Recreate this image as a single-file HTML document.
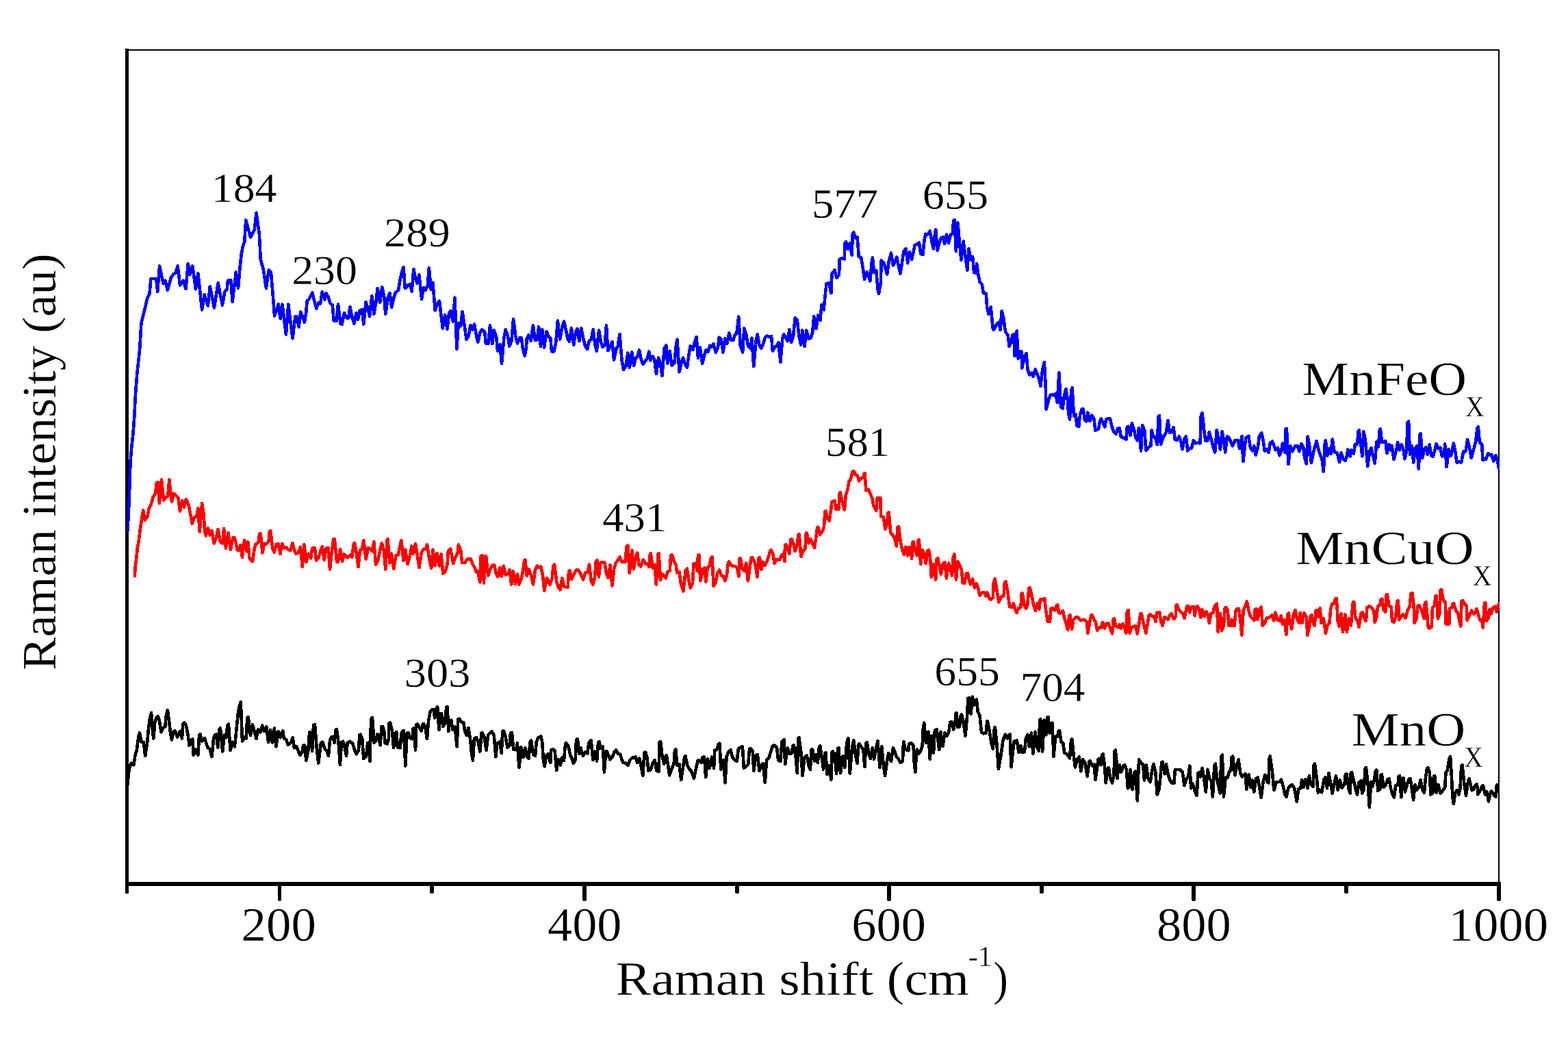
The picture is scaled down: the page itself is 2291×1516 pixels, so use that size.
<!DOCTYPE html>
<html lang="en">
<head>
<meta charset="utf-8">
<title>Raman spectra</title>
<style>
html,body{margin:0;padding:0;background:#fff;}
body{width:2291px;height:1516px;overflow:hidden;}
svg{display:block;}
text{font-family:"Liberation Serif","DejaVu Serif",serif;fill:#000;stroke:#fff;stroke-width:0.3px;}
</style>
</head>
<body>
<svg width="2291" height="1516" viewBox="0 0 2291 1516">
<rect x="0" y="0" width="2291" height="1516" fill="#ffffff"/>
<g id="frame" shape-rendering="crispEdges">
<rect x="183" y="71.5" width="2008" height="2" fill="#000"/>
<rect x="2189" y="71.5" width="2" height="1220" fill="#000"/>
<rect x="183" y="70.5" width="5" height="1234" fill="#000"/>
<rect x="183" y="1288" width="2010" height="6" fill="#000"/>
<rect x="183" y="1290" width="5" height="14" fill="#000"/>
<rect x="184" y="1304" width="3" height="1" fill="#000"/>
<rect x="406" y="1290" width="5" height="25" fill="#000"/>
<rect x="407" y="1315" width="3" height="1" fill="#000"/>
<rect x="628" y="1290" width="6" height="14" fill="#000"/>
<rect x="629" y="1304" width="4" height="1" fill="#000"/>
<rect x="851" y="1290" width="6" height="25" fill="#000"/>
<rect x="852" y="1315" width="4" height="1" fill="#000"/>
<rect x="1074" y="1290" width="6" height="14" fill="#000"/>
<rect x="1075" y="1304" width="4" height="1" fill="#000"/>
<rect x="1296" y="1290" width="6" height="25" fill="#000"/>
<rect x="1297" y="1315" width="4" height="1" fill="#000"/>
<rect x="1519" y="1290" width="6" height="14" fill="#000"/>
<rect x="1520" y="1304" width="4" height="1" fill="#000"/>
<rect x="1741" y="1290" width="6" height="25" fill="#000"/>
<rect x="1742" y="1315" width="4" height="1" fill="#000"/>
<rect x="1964" y="1290" width="6" height="14" fill="#000"/>
<rect x="1965" y="1304" width="4" height="1" fill="#000"/>
<rect x="2187" y="1290" width="6" height="25" fill="#000"/>
<rect x="2188" y="1315" width="4" height="1" fill="#000"/>
</g>
<defs><clipPath id="plotclip"><rect x="186" y="73" width="2005" height="1216"/></clipPath></defs>
<g id="curves" clip-path="url(#plotclip)">
<polyline points="186.4,1146.7 187.7,1130.9 189.4,1120.5 191.6,1114.6 195.5,1117.2 197.5,1103.4 200.1,1094.3 202.1,1077.3 204.0,1070.3 206.7,1083.8 209.9,1083.8 212.2,1104.1 215.2,1083.8 217.1,1062.9 219.1,1048.5 221.1,1041.2 223.0,1068.1 224.3,1078.6 226.3,1055.0 228.3,1048.5 230.6,1046.2 232.9,1052.4 235.5,1069.4 238.1,1062.9 241.4,1061.5 242.7,1045.8 244.9,1037.3 247.3,1055.0 249.2,1072.0 250.9,1080.5 253.8,1068.1 255.8,1067.0 259.0,1076.6 263.0,1068.1 266.0,1078.6 267.2,1057.6 269.1,1055.3 272.1,1060.2 274.8,1074.6 276.7,1089.0 278.7,1083.8 281.3,1079.2 282.6,1102.8 285.9,1094.3 289.4,1102.8 291.1,1073.3 292.4,1072.3 295.1,1082.5 299.0,1078.2 301.6,1086.4 303.6,1091.7 306.8,1094.3 309.5,1105.4 312.1,1078.6 314.0,1073.3 316.0,1072.7 318.2,1091.7 320.3,1065.5 321.9,1063.1 325.2,1097.6 327.8,1073.3 330.4,1077.3 332.4,1058.9 333.9,1057.4 336.6,1096.2 339.6,1083.8 342.9,1090.4 345.5,1065.5 348.1,1039.3 350.1,1030.1 351.8,1025.5 354.0,1082.5 357.3,1075.9 359.9,1078.6 361.2,1048.5 362.8,1047.4 366.0,1074.0 369.0,1058.3 371.7,1068.1 374.5,1078.6 376.9,1065.5 380.2,1069.4 383.4,1059.6 386.1,1068.1 389.3,1061.3 392.0,1083.8 395.0,1066.1 397.8,1084.5 400.9,1063.5 403.3,1090.4 406.8,1068.1 409.6,1077.3 413.3,1067.4 414.9,1078.6 418.1,1079.9 420.8,1087.7 424.7,1085.1 427.7,1077.3 429.9,1092.3 433.2,1090.4 435.8,1096.9 438.4,1102.8 441.7,1098.2 443.0,1089.0 445.0,1088.4 447.3,1110.7 450.2,1096.9 452.2,1069.4 454.2,1070.1 456.1,1096.9 458.1,1058.9 460.0,1058.3 462.7,1091.7 465.3,1114.6 469.0,1085.1 471.2,1083.8 474.9,1094.3 477.5,1096.9 479.9,1104.1 482.1,1081.2 484.3,1076.6 486.7,1075.9 488.6,1085.1 490.6,1065.5 491.9,1065.1 494.5,1083.8 496.9,1117.2 499.1,1083.8 501.1,1082.8 503.7,1091.7 506.0,1104.1 507.6,1085.1 511.5,1082.8 515.5,1086.4 518.1,1095.6 520.7,1101.2 524.0,1095.6 525.3,1073.3 526.6,1072.7 529.2,1078.6 531.2,1108.0 535.1,1104.8 537.1,1085.1 538.8,1084.5 540.4,1112.0 541.7,1065.5 542.7,1049.1 544.0,1048.1 546.6,1085.1 549.5,1081.2 551.5,1072.0 553.4,1078.6 555.7,1088.4 557.4,1061.5 558.9,1060.9 561.3,1068.1 562.6,1085.1 565.9,1086.4 567.9,1078.6 568.5,1056.3 570.2,1055.7 573.1,1068.1 575.1,1092.3 577.7,1070.7 579.2,1069.0 580.9,1091.7 584.9,1092.3 586.2,1072.0 588.1,1068.1 590.1,1067.0 592.3,1118.5 594.7,1070.7 596.7,1070.1 599.9,1078.6 602.6,1079.2 603.2,1064.2 604.8,1063.5 607.1,1095.6 608.4,1058.3 610.0,1057.6 613.0,1062.9 615.6,1067.4 617.6,1057.6 619.2,1057.0 621.5,1062.9 623.9,1079.2 626.1,1052.4 628.7,1039.3 630.7,1036.7 633.3,1036.0 635.3,1048.5 637.9,1033.4 639.2,1032.7 641.4,1066.1 643.1,1042.6 645.1,1041.9 647.1,1060.9 649.7,1057.6 652.3,1032.7 653.6,1032.1 655.3,1068.1 657.6,1052.4 659.3,1051.7 661.5,1066.1 664.8,1061.5 667.6,1090.4 669.3,1050.4 671.3,1049.8 673.9,1054.3 677.2,1055.0 679.2,1068.1 681.8,1074.0 684.4,1063.1 687.0,1078.6 689.0,1099.5 690.9,1110.7 692.9,1078.6 696.2,1077.0 698.8,1085.1 701.4,1097.6 703.4,1070.7 704.7,1070.1 707.3,1075.9 710.6,1095.6 713.2,1073.3 718.4,1068.1 721.7,1073.3 724.3,1105.4 726.3,1086.4 730.2,1083.2 732.8,1100.2 734.2,1068.1 735.7,1067.0 738.7,1075.9 741.4,1091.7 744.6,1089.0 745.9,1070.7 747.9,1070.1 750.3,1094.9 754.2,1094.3 755.9,1085.4 758.5,1121.1 761.4,1091.3 764.3,1106.1 767.3,1092.1 769.9,1104.8 772.6,1108.0 774.5,1083.8 776.1,1081.4 779.1,1102.1 782.0,1104.1 783.7,1083.8 786.3,1077.3 790.2,1075.3 792.2,1083.8 793.8,1108.7 795.7,1119.2 798.1,1103.4 801.0,1101.2 804.2,1113.9 805.3,1095.6 807.3,1094.3 810.5,1095.6 813.2,1125.1 815.4,1109.3 818.8,1117.9 821.0,1106.7 824.0,1111.0 825.6,1091.7 826.9,1085.1 830.2,1089.0 833.4,1103.4 835.4,1107.4 837.8,1115.0 840.7,1110.0 842.0,1081.2 843.9,1079.2 846.5,1100.8 848.5,1092.3 851.8,1104.1 855.1,1098.2 858.3,1100.8 860.3,1085.1 863.6,1081.2 866.4,1110.0 869.1,1097.6 872.1,1111.3 874.0,1085.1 875.6,1083.4 878.0,1093.0 880.9,1090.4 882.9,1127.7 885.2,1097.6 886.5,1097.2 889.1,1103.4 891.3,1109.3 895.0,1104.8 897.6,1098.2 900.0,1095.3 902.9,1100.8 906.1,1101.5 908.7,1110.0 910.7,1113.9 914.6,1114.6 917.5,1117.9 920.5,1110.0 923.8,1106.7 926.4,1106.3 928.8,1105.4 931.0,1113.9 934.3,1107.6 936.9,1120.5 939.3,1132.9 941.5,1099.5 943.1,1098.5 945.4,1106.1 947.4,1125.7 950.6,1124.4 953.9,1113.9 956.8,1110.3 959.2,1125.7 962.4,1127.0 963.7,1083.8 965.1,1083.2 967.7,1104.8 970.3,1115.9 972.9,1103.4 973.8,1103.1 976.2,1117.9 978.1,1132.3 981.4,1123.1 984.7,1115.2 986.0,1095.6 987.3,1094.3 989.3,1117.9 992.5,1116.5 995.2,1138.8 998.4,1117.9 1000.4,1104.8 1001.5,1104.4 1004.3,1117.9 1007.0,1123.1 1010.2,1126.4 1013.9,1136.8 1017.4,1120.5 1019.4,1111.3 1020.7,1110.3 1024.4,1113.9 1026.4,1106.1 1029.0,1105.4 1031.2,1134.9 1033.8,1108.4 1036.8,1121.8 1040.1,1105.4 1043.1,1121.8 1044.3,1095.6 1047.3,1094.9 1049.9,1086.4 1051.6,1085.8 1053.2,1123.7 1055.2,1110.7 1057.1,1110.0 1059.5,1143.4 1061.7,1104.8 1064.3,1098.2 1067.6,1095.2 1070.2,1106.1 1073.5,1110.0 1076.8,1111.7 1078.7,1094.3 1081.4,1091.7 1084.9,1090.4 1086.9,1121.8 1090.5,1119.2 1093.2,1116.5 1095.1,1093.6 1096.4,1093.2 1099.7,1096.9 1101.3,1125.7 1104.3,1103.4 1106.9,1102.1 1109.5,1125.7 1112.8,1117.9 1114.8,1115.2 1117.8,1142.7 1120.0,1110.0 1123.3,1107.4 1126.5,1096.9 1128.5,1090.4 1131.1,1088.4 1135.1,1091.7 1137.0,1110.0 1140.3,1112.0 1142.3,1083.8 1145.5,1080.5 1147.2,1115.9 1150.8,1092.3 1153.4,1100.8 1156.7,1100.2 1158.6,1089.0 1159.9,1088.4 1162.6,1104.8 1164.8,1129.0 1166.1,1078.6 1167.4,1077.3 1170.4,1098.2 1172.6,1132.9 1175.3,1106.1 1178.9,1103.4 1181.5,1117.9 1183.9,1124.1 1185.5,1094.9 1187.0,1094.3 1190.1,1111.3 1192.0,1102.1 1194.9,1113.9 1197.0,1090.4 1198.3,1089.3 1200.5,1104.8 1203.1,1123.7 1205.1,1100.2 1206.4,1099.1 1208.4,1130.9 1211.7,1117.9 1214.3,1138.8 1215.8,1098.2 1216.9,1097.6 1219.5,1102.1 1222.1,1130.3 1224.1,1093.0 1225.4,1092.1 1228.0,1129.0 1231.3,1104.4 1234.2,1121.1 1237.2,1085.1 1239.2,1078.2 1241.8,1129.6 1245.1,1091.7 1247.3,1081.2 1250.3,1104.8 1252.5,1115.0 1254.2,1087.7 1255.5,1086.4 1258.8,1091.7 1261.4,1094.3 1263.4,1120.2 1265.3,1085.1 1266.7,1084.2 1269.3,1099.5 1271.9,1108.0 1274.8,1092.3 1277.1,1108.7 1280.4,1091.7 1282.4,1082.1 1285.6,1121.1 1288.3,1090.4 1290.9,1117.9 1293.1,1132.9 1296.1,1111.3 1298.1,1100.2 1302.0,1112.0 1304.9,1092.3 1307.7,1098.2 1309.6,1104.8 1312.9,1108.7 1315.5,1113.9 1319.1,1111.3 1319.5,1091.7 1320.4,1083.2 1322.7,1094.3 1327.3,1096.2 1328.0,1086.4 1331.6,1085.1 1334.5,1089.0 1335.8,1113.9 1337.4,1127.7 1339.1,1096.9 1340.0,1094.5 1342.4,1100.8 1345.0,1096.9 1347.6,1089.0 1348.9,1062.9 1350.2,1055.7 1352.9,1085.1 1354.2,1069.4 1356.5,1068.7 1358.7,1108.7 1361.4,1074.6 1364.0,1099.5 1365.9,1066.8 1368.6,1065.5 1372.2,1094.9 1374.5,1068.7 1377.5,1089.7 1380.4,1070.1 1383.6,1074.6 1386.2,1069.4 1388.2,1055.0 1390.2,1054.3 1393.4,1065.5 1395.8,1052.4 1396.7,1041.9 1397.6,1041.2 1399.3,1062.2 1402.0,1061.5 1403.9,1044.5 1405.0,1043.5 1407.2,1052.4 1410.5,1074.6 1413.1,1045.8 1414.4,1019.6 1416.4,1019.0 1418.6,1042.6 1420.9,1017.7 1423.6,1030.1 1426.8,1021.6 1428.8,1039.3 1431.4,1044.5 1434.0,1069.4 1437.3,1071.4 1440.6,1070.7 1442.2,1053.7 1442.9,1053.3 1445.8,1068.1 1448.4,1085.1 1450.8,1093.6 1453.0,1062.9 1453.9,1062.2 1456.3,1085.1 1458.9,1123.1 1462.2,1104.8 1465.5,1081.2 1468.7,1072.7 1472.0,1078.6 1474.4,1073.3 1475.7,1072.7 1477.5,1120.5 1480.5,1091.7 1481.8,1082.5 1485.8,1081.2 1488.4,1098.9 1491.4,1089.0 1493.6,1098.9 1496.9,1098.2 1498.9,1078.6 1501.5,1072.7 1503.7,1090.4 1507.0,1070.7 1509.3,1100.8 1512.6,1068.7 1515.0,1090.4 1517.8,1096.9 1519.2,1051.1 1520.2,1050.4 1523.1,1097.6 1525.7,1051.7 1528.6,1073.3 1530.3,1047.8 1531.6,1047.1 1533.6,1070.7 1536.2,1056.3 1537.5,1055.7 1539.5,1104.8 1542.1,1075.9 1545.3,1075.3 1546.7,1068.1 1548.0,1067.0 1550.6,1083.8 1553.2,1085.1 1555.2,1099.5 1559.1,1101.5 1563.0,1107.4 1565.0,1081.2 1566.3,1079.5 1568.9,1104.8 1570.9,1120.5 1574.2,1108.7 1576.8,1105.4 1579.4,1126.4 1582.0,1108.9 1585.3,1113.9 1588.6,1133.6 1591.6,1112.0 1592.9,1111.4 1596.2,1118.6 1598.8,1116.6 1600.4,1138.9 1603.4,1118.6 1604.7,1108.7 1606.7,1108.1 1608.6,1117.3 1609.9,1102.9 1611.6,1101.5 1613.9,1118.6 1615.8,1143.4 1618.5,1121.8 1619.8,1121.2 1622.4,1136.9 1625.0,1143.4 1627.6,1131.7 1628.3,1097.6 1629.8,1095.7 1631.5,1113.3 1632.6,1136.9 1634.2,1118.6 1635.7,1117.5 1638.1,1127.7 1641.4,1118.6 1643.3,1117.3 1645.9,1123.8 1647.9,1151.3 1650.1,1148.7 1651.4,1123.8 1654.5,1153.3 1657.1,1129.0 1659.0,1126.7 1661.9,1169.6 1663.6,1118.6 1664.3,1109.4 1667.6,1115.3 1670.2,1115.9 1671.9,1139.5 1674.8,1117.5 1677.4,1136.9 1680.7,1142.1 1683.3,1125.1 1685.5,1115.6 1688.5,1129.0 1690.7,1160.5 1693.7,1152.6 1695.7,1131.7 1697.3,1113.3 1698.6,1112.7 1701.6,1130.4 1703.8,1115.9 1706.8,1131.7 1709.5,1139.5 1712.7,1144.1 1715.4,1144.1 1716.9,1123.8 1719.9,1123.8 1723.9,1123.8 1727.8,1127.7 1730.4,1147.4 1733.7,1136.9 1736.3,1134.3 1738.3,1118.6 1740.2,1151.3 1742.9,1144.8 1746.1,1156.5 1748.7,1161.8 1750.4,1129.0 1752.0,1128.0 1754.0,1134.3 1756.6,1121.8 1759.2,1136.9 1761.8,1156.5 1764.5,1123.8 1767.1,1136.9 1769.7,1140.8 1771.9,1163.7 1774.3,1118.6 1775.8,1115.6 1778.9,1142.1 1782.8,1158.5 1784.4,1105.5 1785.8,1102.6 1788.0,1163.7 1790.6,1135.6 1793.9,1135.6 1795.9,1126.4 1798.5,1125.1 1799.8,1105.5 1801.1,1104.4 1804.4,1132.3 1807.7,1115.9 1809.6,1109.4 1812.3,1129.0 1814.9,1134.3 1819.5,1130.4 1821.4,1152.6 1824.7,1131.3 1827.3,1150.0 1829.9,1139.5 1832.2,1156.5 1835.2,1136.9 1837.8,1135.6 1840.4,1151.3 1842.6,1165.1 1845.6,1142.1 1848.3,1131.7 1851.5,1142.1 1853.5,1143.4 1854.4,1108.1 1855.7,1104.4 1858.7,1125.1 1861.4,1153.9 1865.1,1142.1 1869.6,1142.1 1872.0,1138.5 1874.9,1148.7 1877.5,1160.5 1879.7,1163.7 1882.1,1151.3 1885.4,1147.4 1888.2,1146.3 1891.2,1151.3 1894.8,1170.7 1897.1,1152.6 1900.4,1151.3 1902.1,1139.1 1904.3,1150.0 1907.6,1138.2 1910.5,1151.3 1912.9,1133.2 1915.5,1146.1 1918.7,1148.7 1919.4,1118.6 1921.0,1115.3 1924.0,1138.2 1925.9,1157.9 1928.6,1153.9 1931.2,1157.2 1934.5,1138.2 1936.4,1135.3 1939.0,1151.3 1941.4,1129.0 1944.3,1144.8 1946.6,1158.5 1949.5,1144.8 1951.9,1133.4 1954.8,1153.9 1957.6,1139.3 1960.7,1150.7 1964.6,1144.8 1965.9,1131.0 1967.5,1130.4 1970.5,1151.3 1972.8,1158.5 1973.7,1129.0 1975.1,1128.1 1979.0,1144.8 1980.9,1152.6 1982.9,1160.5 1985.5,1143.4 1988.8,1140.2 1990.1,1158.5 1992.7,1153.9 1994.7,1122.5 1996.0,1121.2 1998.6,1144.8 2000.9,1179.1 2003.2,1142.1 2005.2,1148.7 2007.8,1139.5 2009.8,1126.4 2011.3,1124.5 2013.3,1155.2 2016.3,1152.6 2017.6,1131.7 2018.9,1131.0 2021.5,1150.0 2024.8,1146.1 2027.4,1138.2 2029.4,1137.3 2032.0,1151.3 2034.6,1160.5 2036.9,1164.4 2039.2,1147.4 2042.5,1146.7 2043.8,1133.6 2045.1,1133.0 2047.3,1164.4 2049.3,1136.9 2050.6,1136.2 2053.0,1156.5 2056.2,1144.8 2058.9,1137.6 2060.6,1137.2 2062.8,1151.3 2065.1,1168.3 2067.4,1146.1 2070.0,1153.9 2073.3,1150.0 2075.5,1139.1 2078.5,1153.9 2080.9,1157.9 2083.1,1134.3 2085.1,1121.8 2086.4,1121.2 2089.0,1129.0 2090.3,1160.5 2093.6,1157.9 2094.9,1133.6 2096.2,1133.0 2098.8,1157.9 2101.4,1146.1 2104.7,1158.5 2108.6,1153.9 2111.2,1150.0 2112.5,1127.7 2114.5,1126.4 2117.8,1106.8 2119.1,1105.1 2121.1,1138.2 2122.4,1164.4 2123.9,1174.2 2126.3,1157.9 2128.9,1153.9 2131.5,1160.5 2133.5,1151.3 2135.2,1118.6 2136.5,1117.3 2139.4,1144.8 2142.0,1161.8 2145.3,1139.5 2146.6,1137.6 2149.1,1147.3 2150.4,1154.3 2153.5,1152.5 2155.2,1147.3 2157.4,1145.1 2159.0,1151.7 2159.3,1160.4 2161.8,1156.0 2164.0,1152.5 2165.3,1148.2 2167.0,1147.3 2168.8,1156.0 2170.1,1160.4 2171.8,1156.0 2173.1,1158.6 2174.9,1170.4 2177.1,1160.4 2178.8,1155.6 2181.4,1157.8 2183.2,1162.1 2185.4,1163.4 2186.7,1147.3 2187.5,1146.4 2189.7,1156.0" fill="none" stroke="#000000" stroke-width="4.6" stroke-linejoin="round" stroke-linecap="round" shape-rendering="crispEdges"/>
<polyline points="196.8,841.3 197.8,826.9 199.5,813.8 200.8,800.7 202.7,790.2 204.3,777.1 206.0,765.4 207.3,756.2 209.3,745.4 211.6,759.5 215.2,754.9 217.8,741.8 220.4,737.9 223.7,726.1 227.0,720.8 228.9,705.1 230.5,704.5 232.9,735.2 236.1,700.5 239.1,730.7 242.7,726.1 245.3,724.8 247.3,700.5 250.9,732.6 253.8,720.8 257.1,723.4 260.4,726.7 263.0,746.4 266.2,731.3 268.9,741.1 271.9,729.3 275.4,736.5 278.7,753.6 280.7,764.7 283.9,755.5 287.2,754.9 289.2,742.4 291.8,776.5 295.1,735.2 297.7,750.9 299.0,775.8 300.9,782.4 303.8,771.2 306.8,781.7 309.5,775.2 312.7,793.5 316.0,785.0 318.6,773.2 321.9,791.5 325.2,793.5 327.1,772.2 330.0,800.7 333.4,778.1 337.0,802.7 340.2,785.6 342.9,785.3 346.8,803.3 349.4,804.0 351.4,796.1 354.0,813.8 357.0,789.2 359.9,804.6 362.5,791.5 364.4,815.2 369.0,819.8 371.6,802.1 373.6,794.9 377.5,792.3 379.1,779.9 380.8,779.2 383.4,807.4 386.0,794.3 389.3,794.3 392.6,791.0 393.9,775.9 395.2,775.3 398.5,802.1 400.8,806.7 403.7,794.9 406.3,794.0 409.6,808.7 412.2,794.0 415.5,800.8 418.1,799.3 421.4,802.8 424.6,804.1 427.5,793.2 430.5,804.8 432.5,808.7 435.8,807.4 439.0,799.1 441.7,827.7 444.3,795.3 447.6,821.1 450.2,808.7 454.1,815.2 456.1,800.8 460.0,800.2 462.0,818.5 465.2,815.2 468.5,804.8 470.7,798.2 473.7,817.6 476.4,800.8 479.6,800.2 482.0,831.6 484.9,804.8 487.2,787.7 488.8,787.1 492.1,820.5 494.0,820.5 496.9,802.1 500.3,819.8 502.6,809.3 507.8,814.6 511.7,810.7 514.3,813.9 517.0,793.6 518.3,793.2 520.9,808.7 523.5,827.7 526.1,803.4 528.7,802.1 531.4,789.3 534.6,816.5 537.9,800.2 541.2,802.1 543.8,804.8 546.4,791.4 549.0,824.4 552.3,817.9 555.6,802.1 557.9,793.2 560.8,804.8 563.4,831.6 565.4,789.0 566.5,787.5 569.3,822.4 572.0,808.7 575.2,830.7 578.5,811.3 581.8,810.7 585.1,794.3 586.4,789.3 589.6,819.2 592.3,802.8 595.5,823.7 598.8,812.6 601.4,797.6 604.0,808.7 607.0,794.3 609.9,811.3 612.5,829.0 615.8,807.4 618.4,802.1 621.7,802.1 624.1,795.3 627.0,815.2 630.2,829.6 632.6,802.8 635.5,826.4 638.7,808.0 641.8,826.4 644.6,809.3 647.3,837.5 651.0,833.9 653.6,824.8 654.9,805.1 658.2,801.4 662.1,822.8 665.4,814.3 668.6,807.7 669.9,795.6 673.2,803.8 675.2,822.1 679.1,822.1 683.0,816.2 687.6,816.2 690.9,824.8 693.5,828.7 695.5,835.2 698.1,833.9 701.4,850.3 702.7,812.3 704.9,811.4 707.0,851.6 708.6,813.0 710.1,812.3 713.2,840.5 716.4,831.3 719.7,825.4 722.3,825.4 724.9,837.9 727.2,842.4 730.2,829.3 732.8,841.8 735.7,826.7 738.7,839.8 742.0,837.9 744.6,832.4 747.2,853.6 749.8,834.2 753.1,852.9 756.0,838.5 758.3,853.6 761.6,845.7 764.2,833.9 766.2,818.2 767.2,817.6 769.9,841.1 772.7,831.3 776.0,840.5 779.0,853.6 781.9,832.6 784.9,826.7 787.8,828.7 790.4,827.6 793.0,840.5 795.3,862.7 798.9,844.4 803.5,853.6 806.8,844.4 808.4,826.1 810.1,824.4 813.3,849.6 815.9,857.5 818.6,861.4 821.2,844.4 824.5,856.8 829.7,858.1 831.0,835.2 832.7,833.3 835.3,845.7 838.9,837.9 842.1,832.6 844.8,832.0 848.0,837.2 852.0,846.4 855.2,836.5 858.5,835.9 861.1,824.4 863.7,848.3 866.4,853.6 869.0,843.1 870.9,819.5 872.5,818.5 874.9,842.4 877.5,821.5 883.4,821.2 886.0,837.9 888.6,843.7 891.5,825.4 894.5,855.5 897.1,831.3 899.8,822.1 903.7,816.9 905.6,813.6 908.3,820.2 913.5,820.8 915.5,798.6 917.4,796.6 919.8,837.2 923.3,803.8 925.9,831.3 929.0,811.7 931.2,807.5 933.6,824.8 936.2,827.4 939.9,817.6 943.4,823.4 946.0,822.8 948.6,828.0 949.9,809.0 950.9,808.4 953.9,830.0 956.5,824.8 958.8,853.6 961.7,809.0 962.6,808.4 965.0,847.0 967.6,838.5 972.9,844.4 975.5,834.6 978.7,833.9 980.1,811.7 981.8,810.4 985.3,820.8 987.9,826.1 989.2,836.5 992.5,835.2 995.1,853.6 998.4,863.4 1001.7,832.6 1003.9,830.7 1006.9,850.9 1008.9,858.8 1012.1,850.9 1013.4,823.4 1016.1,822.8 1018.7,833.9 1020.0,811.0 1021.3,810.4 1023.3,848.3 1027.2,831.3 1029.2,829.3 1031.5,849.6 1033.7,828.7 1036.4,827.4 1039.0,814.3 1040.6,813.2 1042.5,856.2 1045.5,850.9 1048.1,837.9 1051.2,832.6 1054.0,840.5 1056.7,841.1 1059.3,848.3 1061.9,840.5 1063.9,822.1 1065.2,820.2 1068.4,826.1 1071.7,826.7 1075.0,827.4 1077.0,829.3 1079.3,841.8 1080.2,816.9 1081.8,815.3 1084.8,831.3 1087.4,833.9 1090.3,822.4 1092.9,848.3 1095.3,831.3 1097.3,814.9 1099.2,814.3 1102.5,820.8 1104.5,830.0 1106.4,842.8 1108.4,814.9 1110.0,814.3 1112.3,832.0 1114.9,820.8 1117.6,826.1 1120.8,819.5 1123.4,811.7 1125.4,803.8 1126.7,803.2 1129.3,809.0 1131.6,822.8 1134.6,816.9 1139.2,817.6 1142.4,810.4 1145.1,809.0 1146.4,820.2 1147.0,795.9 1148.3,795.3 1150.9,801.2 1153.3,809.0 1155.5,788.1 1156.6,787.4 1159.5,794.6 1161.7,805.1 1164.7,795.9 1166.7,780.9 1167.7,780.5 1170.3,813.0 1173.2,805.1 1176.5,801.2 1177.8,778.9 1178.8,778.3 1181.7,793.3 1184.3,787.4 1187.0,793.3 1190.0,799.9 1192.8,781.5 1194.2,770.4 1195.5,769.8 1198.1,780.9 1201.4,776.3 1204.0,769.8 1205.3,747.5 1206.6,746.2 1209.0,756.9 1211.6,760.8 1214.2,743.8 1215.5,732.7 1219.5,731.4 1221.4,743.8 1225.4,743.8 1226.7,720.2 1227.7,719.2 1230.6,733.3 1233.9,744.5 1235.8,722.9 1238.5,715.0 1240.4,703.2 1243.0,699.9 1245.7,688.8 1247.6,688.2 1250.2,694.0 1252.9,694.7 1255.1,702.6 1258.1,698.6 1261.4,698.0 1262.3,692.1 1263.6,691.2 1265.3,716.3 1269.2,715.3 1271.8,721.5 1274.5,728.1 1276.4,738.6 1280.1,745.8 1281.7,727.4 1286.2,727.0 1287.2,754.3 1290.8,754.9 1293.4,772.6 1296.1,764.8 1297.4,749.0 1298.7,748.4 1301.3,777.9 1303.9,781.1 1307.2,785.7 1309.8,797.5 1311.5,770.0 1313.1,769.3 1315.7,790.9 1318.3,802.7 1320.9,809.9 1323.3,798.8 1326.2,811.6 1328.1,799.5 1330.8,798.8 1332.1,815.8 1333.6,791.6 1334.7,791.2 1337.3,804.0 1339.9,811.2 1341.5,789.6 1342.8,788.3 1345.2,823.7 1347.8,803.4 1350.4,808.0 1352.8,823.0 1355.6,804.0 1357.0,803.4 1358.9,811.9 1360.9,842.7 1363.9,824.3 1367.2,846.6 1368.7,816.5 1370.1,815.2 1372.7,826.3 1374.9,838.7 1377.9,822.4 1380.5,821.1 1382.9,844.6 1386.0,822.4 1388.4,828.9 1391.0,840.7 1392.7,814.5 1394.3,809.3 1396.9,846.6 1399.5,820.4 1402.1,825.0 1404.8,831.5 1406.7,851.2 1409.3,851.8 1412.0,837.4 1413.9,836.8 1416.2,848.1 1418.2,853.3 1421.0,845.5 1424.0,858.6 1426.7,852.0 1429.3,859.9 1431.6,869.7 1435.2,865.1 1438.5,865.8 1440.4,870.4 1442.4,865.4 1445.0,873.0 1447.6,875.6 1450.9,873.0 1451.8,850.7 1453.8,845.5 1456.8,863.8 1459.4,879.5 1462.7,871.7 1466.6,870.4 1467.9,850.7 1469.5,849.4 1472.5,865.1 1475.1,886.1 1478.4,886.7 1481.0,881.2 1483.0,890.0 1485.6,894.6 1488.2,888.0 1491.5,887.4 1492.5,867.1 1493.8,866.2 1496.7,884.8 1499.3,888.7 1501.3,883.4 1503.3,859.9 1504.8,858.2 1507.9,871.7 1510.5,884.8 1512.8,892.0 1515.1,881.5 1517.0,881.5 1518.3,890.0 1519.9,875.6 1523.6,875.3 1526.2,874.0 1528.1,891.3 1530.8,907.7 1534.0,907.7 1535.6,888.7 1538.0,888.0 1541.2,891.3 1543.9,884.1 1545.2,883.2 1547.1,895.2 1550.4,895.2 1553.0,892.0 1555.6,904.4 1558.3,912.3 1560.2,919.9 1562.2,899.2 1563.5,898.1 1566.1,918.8 1568.1,905.7 1571.4,901.8 1574.6,901.1 1578.6,906.4 1581.8,905.1 1585.1,905.4 1587.7,908.3 1589.4,924.7 1592.3,908.3 1594.3,898.5 1595.6,897.9 1598.9,905.7 1600.8,908.3 1603.2,920.8 1606.1,916.2 1608.7,916.8 1611.0,909.0 1613.9,917.5 1616.5,910.9 1619.4,909.9 1622.4,918.8 1625.1,925.6 1626.8,904.4 1628.1,903.4 1630.3,914.9 1633.6,916.2 1635.5,912.3 1637.5,917.5 1640.8,910.9 1643.4,918.8 1645.3,924.7 1646.9,892.6 1648.6,891.0 1650.6,924.7 1653.2,916.2 1655.8,915.5 1659.1,914.2 1661.7,925.6 1664.3,910.9 1666.3,896.5 1667.6,895.9 1670.9,910.9 1674.2,924.7 1676.8,910.9 1678.7,898.5 1680.7,897.2 1684.0,900.5 1686.6,899.8 1688.6,907.7 1690.3,894.9 1694.2,894.3 1696.2,907.4 1698.5,913.9 1701.4,901.5 1704.0,902.8 1706.7,904.8 1709.3,898.2 1711.6,896.2 1714.9,904.1 1717.8,900.8 1718.5,883.8 1719.8,883.2 1722.4,890.4 1725.7,894.3 1728.3,895.6 1730.6,902.8 1732.9,891.7 1734.2,885.1 1736.1,885.1 1738.1,894.3 1741.4,886.4 1744.6,886.4 1745.7,899.3 1747.9,886.4 1749.2,885.1 1751.8,889.0 1754.5,902.1 1756.4,890.4 1759.7,900.2 1762.3,893.2 1764.9,898.2 1766.9,910.0 1769.5,895.6 1772.8,894.9 1774.1,886.4 1776.7,882.5 1778.0,881.8 1779.7,923.1 1782.9,896.2 1785.2,921.1 1787.9,913.9 1789.8,887.7 1791.1,887.1 1793.7,890.4 1795.4,913.3 1799.0,913.3 1799.6,904.8 1800.9,913.9 1803.6,913.9 1805.5,891.7 1807.5,889.0 1810.1,889.0 1812.1,903.4 1814.4,927.7 1816.7,891.7 1819.9,883.8 1821.9,878.2 1824.5,891.7 1827.1,900.8 1832.4,906.1 1833.7,890.4 1835.3,889.0 1837.6,904.8 1840.2,890.4 1842.9,886.4 1844.8,913.9 1847.4,911.3 1850.7,902.8 1854.6,902.1 1858.6,898.2 1861.2,906.7 1863.5,894.5 1866.4,904.8 1869.7,906.7 1871.7,899.5 1874.0,911.3 1876.9,905.4 1879.3,927.0 1881.5,896.9 1882.8,895.6 1885.4,911.3 1887.4,918.5 1890.0,896.9 1892.6,891.3 1895.2,904.8 1898.5,910.0 1899.8,894.9 1902.4,910.0 1905.7,895.2 1909.0,902.1 1910.3,927.7 1913.6,913.9 1914.9,899.5 1916.4,898.2 1918.8,910.0 1920.8,913.9 1922.5,891.7 1924.0,891.0 1926.0,900.8 1928.6,888.4 1930.6,910.0 1933.9,903.4 1936.9,925.1 1939.8,912.6 1942.4,910.0 1944.3,889.0 1946.3,881.8 1949.6,881.2 1950.9,874.6 1952.8,874.0 1954.8,907.4 1956.8,914.6 1959.7,896.2 1962.0,923.1 1965.3,897.6 1967.9,923.1 1970.6,903.4 1973.9,913.3 1975.8,891.7 1976.9,879.9 1978.2,879.2 1980.4,902.1 1983.7,907.4 1985.7,915.9 1988.3,896.9 1990.5,894.3 1992.9,902.1 1995.9,907.1 1997.4,887.7 2000.7,885.1 2004.0,887.7 2007.3,891.7 2008.6,908.7 2011.2,902.1 2013.2,885.1 2016.4,883.8 2017.7,875.9 2019.3,874.9 2021.7,890.4 2024.3,893.6 2025.6,869.4 2026.9,868.1 2029.5,885.1 2032.8,886.4 2034.1,907.4 2036.7,908.7 2039.3,900.8 2041.3,878.6 2042.9,877.3 2044.2,905.4 2047.9,899.5 2049.8,897.2 2053.7,902.8 2056.4,891.7 2059.6,886.4 2061.6,866.8 2063.3,866.1 2065.5,882.5 2066.8,909.7 2069.5,903.4 2071.4,885.1 2073.4,884.1 2077.3,891.7 2080.6,903.4 2081.9,880.5 2083.2,879.2 2085.2,896.9 2086.5,915.2 2088.7,917.9 2091.7,915.2 2093.0,887.7 2096.3,883.8 2097.4,870.7 2098.7,870.1 2100.9,903.4 2103.5,895.6 2104.8,861.5 2106.1,860.9 2108.7,876.6 2112.0,879.9 2112.7,911.3 2117.3,911.3 2117.9,889.0 2121.2,887.7 2122.5,881.8 2124.2,881.2 2127.1,891.7 2130.3,895.6 2132.7,908.7 2134.3,914.6 2135.6,877.9 2137.2,877.3 2139.5,881.2 2142.8,885.1 2143.7,906.1 2146.7,899.5 2150.0,891.7 2153.3,896.9 2155.2,895.6 2157.6,889.0 2160.5,899.5 2162.4,906.1 2165.1,904.8 2166.8,916.5 2169.0,881.2 2170.3,880.1 2172.3,906.7 2174.9,902.1 2176.8,889.7 2178.8,896.2 2181.4,887.7 2184.7,885.8 2186.7,893.6 2189.9,881.8" fill="none" stroke="#ff0000" stroke-width="4.6" stroke-linejoin="round" stroke-linecap="round" shape-rendering="crispEdges"/>
<polyline points="186.6,774.5 187.7,750.9 189.0,724.8 189.6,698.6 190.7,672.4 192.3,652.7 194.2,635.7 195.5,620.0 196.2,610.2 197.5,584.0 198.8,564.4 200.4,544.8 202.7,523.8 204.3,508.1 205.4,489.8 206.4,471.4 209.3,460.2 213.2,444.5 215.2,435.4 218.5,428.8 220.4,407.2 228.3,406.8 230.2,426.2 233.1,388.5 238.7,414.4 241.4,409.8 244.9,423.6 249.9,405.2 253.8,400.0 256.4,398.7 259.7,388.5 263.0,416.4 267.6,409.8 271.5,421.6 274.8,385.3 277.6,401.3 281.3,388.5 285.9,422.3 289.4,399.3 295.1,452.4 298.6,430.4 303.8,446.5 306.8,418.6 313.0,449.5 318.6,413.4 324.9,445.6 328.4,426.2 331.7,422.3 333.0,409.8 337.4,409.4 339.6,440.6 344.8,397.4 348.1,420.7 350.7,389.5 352.7,371.2 354.6,360.7 357.3,352.9 359.2,321.4 366.2,346.6 371.7,335.8 374.5,310.7 378.9,342.4 380.8,379.0 384.8,393.4 388.9,420.9 392.6,394.4 395.9,397.4 398.5,427.5 401.1,461.5 406.8,444.5 409.6,465.5 412.5,444.5 417.9,488.6 421.3,444.4 427.5,494.3 431.4,462.4 433.4,462.4 436.7,477.5 439.3,455.5 444.8,470.6 447.1,457.9 448.7,439.5 451.7,436.9 456.3,427.3 462.2,450.7 465.5,442.1 468.1,443.4 470.7,426.4 474.4,437.6 476.6,428.0 479.9,434.3 482.5,443.4 485.8,445.4 487.7,468.3 491.7,469.0 494.0,444.4 497.6,472.9 499.5,473.6 503.1,457.2 506.7,464.4 509.3,464.4 511.3,448.0 514.6,464.4 517.5,472.5 520.5,457.2 523.1,466.4 525.7,453.9 529.0,452.0 531.3,473.6 534.6,441.2 537.5,451.3 540.1,461.8 543.4,432.3 546.4,458.5 549.3,442.1 551.6,421.2 555.2,441.5 558.2,419.2 561.1,431.7 563.3,458.5 567.0,434.3 569.6,428.0 572.2,448.7 575.5,434.3 578.1,427.1 582.0,423.8 584.6,408.1 587.3,396.3 589.6,390.4 591.8,421.2 596.4,416.6 599.0,415.3 601.7,425.5 604.3,393.0 606.9,405.5 609.5,414.0 612.4,401.3 616.1,436.9 618.7,419.9 621.3,423.8 624.6,418.6 626.9,391.3 629.8,423.2 632.4,412.7 635.7,453.3 639.0,443.4 642.0,439.5 644.2,457.9 646.8,479.5 650.1,460.2 653.4,480.8 656.0,457.9 658.6,453.9 661.9,469.6 664.5,434.5 667.4,509.6 669.8,472.3 673.0,476.2 675.6,455.2 678.9,477.5 681.5,495.8 684.8,490.6 687.4,474.9 690.0,481.4 693.1,473.6 696.6,493.2 698.3,499.5 701.6,485.1 704.2,481.4 708.2,485.1 709.9,501.5 713.4,501.9 716.0,475.3 719.3,502.1 721.6,482.2 725.2,491.7 727.1,512.6 730.4,503.4 733.0,530.9 736.3,494.3 738.7,481.4 742.2,491.7 744.2,505.4 747.4,498.2 750.1,466.1 753.3,490.4 755.9,501.5 759.2,493.6 761.8,493.2 763.8,508.7 766.7,519.8 769.0,507.4 769.7,494.3 772.3,489.3 775.6,497.6 778.9,475.3 781.9,496.9 784.8,496.2 787.1,477.3 790.0,506.1 792.4,481.4 795.2,507.4 798.5,484.2 801.8,491.7 804.4,494.3 806.0,513.3 809.6,513.3 812.3,499.5 814.9,468.4 818.1,495.6 821.2,478.6 824.0,469.4 827.3,483.8 829.3,494.3 831.9,498.9 834.9,479.2 838.2,503.7 841.1,485.1 843.4,480.1 846.3,498.2 849.3,479.2 852.2,494.3 854.8,504.8 858.1,510.0 860.7,498.2 864.0,495.6 866.6,481.4 869.2,502.1 871.8,512.6 875.1,482.5 877.7,498.2 880.3,506.7 883.6,504.8 886.0,475.3 888.2,512.0 891.5,506.1 894.5,499.3 897.1,525.4 900.6,508.7 902.6,506.1 905.5,488.4 908.5,525.7 911.1,539.9 914.4,534.9 917.3,515.5 919.9,536.8 923.2,514.3 926.2,534.2 928.8,523.1 931.4,521.1 934.0,511.3 936.9,525.7 939.5,531.6 943.2,527.0 945.8,523.7 948.2,513.5 950.4,526.4 953.7,520.2 956.3,525.7 958.9,546.0 962.2,522.4 964.8,529.6 967.4,549.0 970.7,508.7 973.3,504.4 975.3,530.9 978.6,512.6 981.6,533.6 985.5,529.6 987.5,507.4 989.5,495.6 992.5,543.4 995.4,530.9 998.0,522.4 1001.2,532.3 1003.9,536.8 1006.5,517.9 1008.7,505.4 1012.4,510.7 1015.0,499.5 1017.6,492.3 1020.0,523.1 1022.9,507.6 1026.1,530.9 1029.4,517.9 1031.4,511.3 1034.6,513.7 1037.3,504.8 1039.9,506.7 1042.5,502.4 1045.8,514.6 1049.0,507.4 1050.6,492.7 1053.6,495.6 1056.5,514.6 1059.3,494.3 1062.1,502.1 1065.4,486.4 1068.0,496.9 1071.3,496.9 1073.9,489.0 1076.5,486.4 1079.2,462.6 1081.8,504.8 1085.1,514.6 1087.3,479.5 1090.3,489.0 1092.9,504.8 1096.8,509.3 1098.5,493.6 1101.2,534.9 1104.7,496.9 1106.7,488.4 1109.3,503.4 1112.2,508.7 1115.2,502.1 1117.8,493.0 1120.8,490.4 1124.3,492.3 1127.0,491.0 1128.9,512.6 1132.2,506.1 1134.8,505.4 1137.4,500.2 1140.4,529.0 1143.3,494.3 1145.3,488.4 1148.6,494.3 1150.5,498.2 1153.4,481.4 1156.0,500.2 1159.0,491.7 1161.7,464.2 1164.9,468.1 1167.6,491.7 1170.2,503.4 1172.4,482.5 1175.4,506.1 1178.4,482.5 1181.3,494.9 1184.6,493.6 1187.2,485.1 1189.2,462.2 1192.4,480.1 1195.3,460.5 1198.3,468.1 1200.5,445.2 1203.6,452.4 1205.5,432.7 1207.5,414.4 1211.4,413.1 1214.3,428.2 1215.5,400.0 1219.5,394.4 1222.5,405.9 1226.0,401.3 1226.7,379.0 1229.3,377.1 1233.9,378.4 1234.5,355.5 1236.1,353.1 1239.1,363.3 1241.7,355.5 1244.7,372.5 1245.7,342.4 1247.2,339.1 1250.2,347.6 1252.6,346.3 1254.8,375.1 1258.1,375.8 1260.7,390.8 1263.1,407.9 1266.6,397.4 1269.2,403.9 1271.4,410.5 1273.8,381.7 1274.9,376.4 1277.1,397.4 1280.4,395.4 1282.3,420.9 1284.0,428.8 1286.9,413.1 1287.6,380.4 1291.5,384.3 1294.1,393.4 1296.1,400.7 1298.7,381.7 1302.0,369.5 1305.0,387.6 1307.9,381.7 1310.2,375.4 1313.1,389.5 1315.4,399.7 1318.3,381.7 1320.3,367.3 1323.6,363.3 1326.2,384.3 1328.8,367.9 1332.1,379.0 1334.7,367.3 1336.7,358.1 1339.9,356.8 1342.9,354.4 1345.2,370.5 1348.4,371.8 1350.4,351.5 1352.4,341.7 1355.6,342.4 1358.7,337.4 1361.5,352.9 1363.9,363.3 1366.1,339.8 1367.2,335.4 1369.7,365.6 1372.7,354.2 1375.3,347.6 1377.9,346.3 1380.1,356.1 1383.1,342.4 1386.0,354.8 1389.0,342.4 1392.3,341.1 1393.0,322.7 1394.5,321.4 1396.9,367.3 1399.5,325.4 1401.5,348.9 1404.4,379.7 1407.6,352.5 1410.6,375.1 1413.3,394.8 1415.5,363.3 1418.5,379.0 1421.1,375.1 1423.1,398.0 1425.7,398.7 1427.0,384.9 1429.6,402.6 1431.6,411.8 1434.9,415.7 1436.8,428.1 1440.8,428.8 1442.1,448.4 1444.7,458.9 1447.7,448.4 1450.6,478.6 1451.9,481.8 1457.0,472.7 1459.6,470.8 1461.6,481.9 1463.6,454.4 1466.2,463.6 1468.2,479.3 1469.5,485.2 1472.7,489.8 1474.7,506.1 1478.0,497.6 1479.3,489.8 1481.2,488.2 1482.6,519.9 1485.6,483.5 1487.8,523.8 1490.4,513.3 1492.4,513.3 1493.3,537.6 1497.0,519.9 1499.6,516.2 1501.5,539.5 1504.2,547.4 1507.4,544.8 1509.4,549.7 1512.7,539.5 1515.3,546.1 1517.9,552.6 1520.5,563.7 1523.2,539.5 1525.8,529.0 1527.7,563.1 1528.7,597.8 1531.7,585.4 1534.3,577.5 1536.9,576.2 1540.2,577.5 1542.1,574.9 1544.8,587.7 1547.4,544.4 1550.0,594.5 1552.6,596.5 1555.2,576.2 1557.5,568.3 1559.8,584.0 1561.1,603.7 1563.1,612.6 1565.1,570.9 1566.6,566.4 1569.0,607.6 1571.6,605.6 1573.6,622.0 1576.2,622.7 1578.1,605.0 1580.8,597.8 1582.7,597.1 1584.7,612.9 1587.3,615.5 1589.3,602.6 1592.6,614.8 1595.2,606.6 1598.4,611.5 1600.4,628.6 1605.0,626.6 1607.0,615.5 1608.9,611.5 1611.5,616.8 1614.2,623.7 1616.1,612.9 1618.1,611.5 1622.0,611.5 1624.6,623.3 1627.3,630.5 1630.5,633.8 1633.1,625.9 1635.8,625.3 1637.7,637.6 1641.6,639.5 1645.5,641.5 1646.8,623.8 1648.5,622.8 1651.4,636.2 1654.0,618.2 1657.3,629.0 1659.3,639.5 1661.9,643.4 1663.9,625.1 1667.1,658.5 1669.1,621.2 1672.4,629.0 1674.3,657.9 1678.9,652.6 1681.5,651.3 1682.6,628.4 1685.5,638.2 1688.1,638.2 1690.7,649.3 1692.7,608.1 1694.0,607.0 1695.9,649.3 1699.2,639.5 1703.8,631.7 1706.4,614.2 1709.0,631.7 1712.3,630.4 1714.5,624.1 1716.9,642.1 1720.2,642.8 1722.8,637.2 1725.4,644.8 1727.4,656.3 1730.7,640.8 1732.9,637.2 1735.2,658.5 1738.5,655.2 1741.1,654.6 1743.7,643.4 1747.0,647.4 1750.3,646.7 1753.6,647.4 1754.9,605.5 1756.6,603.2 1759.5,630.4 1761.4,644.1 1764.7,643.4 1766.9,631.0 1769.9,642.1 1772.6,652.6 1775.2,660.5 1777.8,628.4 1780.4,642.1 1783.0,656.5 1785.6,630.4 1788.3,644.8 1790.2,660.5 1792.9,637.6 1795.5,638.9 1798.1,644.8 1800.7,651.3 1804.6,643.4 1808.6,642.8 1811.2,655.2 1814.5,637.2 1816.4,674.2 1820.3,639.5 1824.3,636.9 1826.9,653.9 1830.2,658.5 1832.4,651.3 1834.8,664.4 1838.0,652.6 1840.0,636.9 1843.3,632.3 1845.9,644.8 1847.8,658.5 1851.1,655.9 1853.7,661.1 1855.7,647.4 1859.0,644.4 1861.6,651.3 1863.6,657.2 1866.8,653.9 1869.5,665.4 1872.1,657.9 1874.0,647.6 1877.3,661.1 1878.6,626.4 1879.9,626.2 1882.5,678.1 1885.2,651.3 1888.4,659.2 1892.4,651.3 1895.6,651.3 1898.3,659.2 1901.5,648.3 1904.2,652.6 1906.1,668.3 1908.7,677.2 1910.7,637.6 1913.3,651.3 1915.9,676.2 1919.6,657.9 1923.6,644.1 1926.8,657.9 1929.5,665.7 1931.4,669.6 1933.8,688.6 1936.0,644.8 1936.9,643.2 1939.3,665.7 1941.9,655.2 1944.5,663.1 1946.7,641.5 1949.8,660.5 1953.7,661.1 1957.0,674.9 1959.6,661.5 1962.9,670.9 1965.5,672.9 1968.1,665.7 1969.4,656.5 1972.7,666.4 1974.6,657.2 1977.9,662.4 1979.9,648.7 1983.2,648.7 1984.5,630.4 1985.8,628.4 1990.4,666.4 1992.3,630.4 1994.9,642.1 1998.2,680.8 2001.5,657.9 2003.4,654.2 2006.1,665.7 2008.7,676.8 2011.3,645.4 2013.9,652.6 2015.9,627.1 2016.9,626.4 2019.2,646.1 2021.8,644.8 2024.4,644.4 2026.4,661.8 2029.6,649.3 2032.3,657.9 2033.6,650.7 2036.6,670.9 2040.1,657.9 2042.1,646.3 2044.7,657.2 2048.0,649.3 2050.6,657.9 2052.6,670.3 2055.2,657.9 2056.5,617.3 2058.1,615.3 2060.0,663.7 2063.0,651.3 2065.3,675.5 2067.6,655.2 2070.2,651.3 2072.9,684.7 2074.8,634.3 2075.7,633.2 2078.1,669.0 2081.4,655.2 2083.1,653.3 2085.9,663.7 2088.6,649.3 2091.2,665.7 2093.8,667.0 2096.4,657.9 2098.6,648.0 2101.7,655.2 2104.3,653.9 2106.9,666.4 2110.2,665.7 2111.1,648.4 2113.7,682.1 2116.7,655.9 2120.0,665.7 2123.9,647.4 2126.5,660.5 2128.5,675.5 2131.8,674.2 2135.1,675.5 2138.3,659.2 2141.6,659.2 2144.2,642.1 2146.8,652.6 2149.8,669.0 2152.7,657.9 2156.0,646.1 2158.6,625.1 2159.7,623.4 2161.9,646.1 2165.2,649.3 2166.5,671.6 2171.1,670.9 2174.3,662.0 2177.0,664.4 2179.6,663.7 2182.2,673.6 2185.5,665.1 2188.1,673.6 2190.0,684.0" fill="none" stroke="#0000ff" stroke-width="4.6" stroke-linejoin="round" stroke-linecap="round" shape-rendering="crispEdges"/>
</g>
<g id="labels">
<text transform="translate(352.62,1374.30) scale(1.0499,1)" font-size="69.4">200</text>
<text transform="translate(800.06,1374.30) scale(1.0407,1)" font-size="69.4">400</text>
<text transform="translate(1244.34,1374.30) scale(1.0428,1)" font-size="69.4">600</text>
<text transform="translate(1690.10,1374.30) scale(1.0452,1)" font-size="69.4">800</text>
<text transform="translate(2116.54,1374.30) scale(1.0495,1)" font-size="69.4">1000</text>
<text transform="translate(308.75,295.30) scale(1.0540,1)" font-size="60.6">184</text>
<text transform="translate(426.13,414.50) scale(1.0531,1)" font-size="60.6">230</text>
<text transform="translate(560.99,359.80) scale(1.0659,1)" font-size="60.6">289</text>
<text transform="translate(1186.01,318.00) scale(1.0685,1)" font-size="60.6">577</text>
<text transform="translate(1347.81,304.50) scale(1.0601,1)" font-size="60.6">655</text>
<text transform="translate(1206.03,666.40) scale(1.0355,1)" font-size="60.6">581</text>
<text transform="translate(880.25,775.90) scale(1.0354,1)" font-size="60.6">431</text>
<text transform="translate(590.78,1003.40) scale(1.0627,1)" font-size="60.6">303</text>
<text transform="translate(1365.33,1000.50) scale(1.0519,1)" font-size="60.6">655</text>
<text transform="translate(1490.70,1024.10) scale(1.0412,1)" font-size="60.6">704</text>
<text transform="translate(899.47,1452.90) scale(1.1235,1)" font-size="69.0">Raman shift (cm</text>
<text transform="translate(1414.63,1410.60) scale(1.0010,1)" font-size="42.0">-1</text>
<text transform="translate(1451.24,1452.90) scale(0.9476,1)" font-size="69.0">)</text>
<text transform="translate(1902.58,576.60) scale(1.1171,1)" font-size="69.2">MnFeO</text>
<text transform="translate(2141.03,608.00) scale(0.9252,1)" font-size="41.5">X</text>
<text transform="translate(1893.22,823.50) scale(1.1475,1)" font-size="69.2">MnCuO</text>
<text transform="translate(2151.83,855.00) scale(0.9322,1)" font-size="41.5">X</text>
<text transform="translate(1974.53,1088.70) scale(1.1426,1)" font-size="69.2">MnO</text>
<text transform="translate(2139.24,1119.70) scale(0.9146,1)" font-size="41.5">X</text>
<text transform="translate(80.60,978.98) rotate(-90) scale(1.0405,1)" font-size="69.8">Raman intensity (au)</text>
</g>
</svg>
</body>
</html>
